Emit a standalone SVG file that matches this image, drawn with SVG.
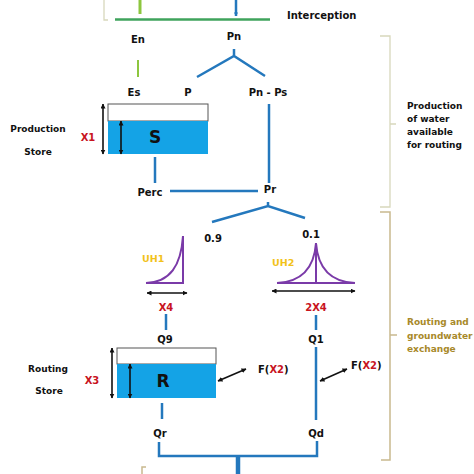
<svg xmlns="http://www.w3.org/2000/svg" width="474" height="474" viewBox="0 0 474 474">
<style>
text{font-family:"DejaVu Sans","Liberation Sans",sans-serif;font-weight:bold;font-size:9px;fill:#111}
.n{font-size:10px}
.c{text-anchor:middle}
.red{fill:#c8141e}
.yel{fill:#f2c21a}
.tan{fill:#a8892a}
.big{font-size:17px}
.bl{fill:none;stroke:#2478bd;stroke-width:2.5}
.pu{fill:none;stroke:#7a3aa8;stroke-width:2}
.da{stroke:#111;stroke-width:1.6;fill:none;marker-start:url(#ah);marker-end:url(#ah)}
.br{fill:none;stroke:#d8d8bc;stroke-width:1.3}
.br2{fill:none;stroke:#c9b98f;stroke-width:1.5}
</style>
<defs>
<marker id="ah" viewBox="0 0 10 10" refX="9" refY="5" markerWidth="5" markerHeight="5" orient="auto-start-reverse" markerUnits="userSpaceOnUse"><path d="M0,0 L10,5 L0,10 z" fill="#111"/></marker>
<marker id="bh" viewBox="0 0 10 10" refX="9" refY="5" markerWidth="4" markerHeight="4" orient="auto" markerUnits="userSpaceOnUse"><path d="M0,0 L10,5 L0,10 z" fill="#2478bd"/></marker>
</defs>
<rect width="474" height="474" fill="#fff"/>

<g id="brackets">
<path class="br" d="M104,0 V20 H108"/>
<path class="br" d="M380,36 H390 V124 H396 M390,124 V207 H380"/>
<path class="br2" d="M380,212 H390 V335 H397 M390,335 V460 H381"/>
<path class="br2" d="M146,467 H142 V474"/>
</g>

<g id="connectors">
<line x1="140" y1="0" x2="140" y2="14" stroke="#8dc63f" stroke-width="3"/>
<line x1="236" y1="0" x2="236" y2="16" stroke="#2478bd" stroke-width="2.5" marker-end="url(#bh)"/>
<line x1="115" y1="19.5" x2="270" y2="19.5" stroke="#3fa35c" stroke-width="2.5"/>
<line x1="138" y1="60" x2="138" y2="77" stroke="#8dc63f" stroke-width="2"/>
<path class="bl" d="M234,49 V56 M197,77 L234,56 L265,76"/>
<line class="bl" x1="269" y1="104" x2="269" y2="183"/>
<line class="bl" x1="155" y1="157" x2="155" y2="183"/>
<line class="bl" x1="170" y1="191" x2="258" y2="191"/>
<path class="bl" d="M268,202 V206 M212,222 L268,206 L305,218"/>
<line class="bl" x1="166" y1="314" x2="166" y2="330"/>
<line class="bl" x1="316" y1="315" x2="316" y2="330"/>
<line class="bl" x1="316" y1="347" x2="316" y2="420"/>
<line class="bl" x1="162" y1="403" x2="162" y2="419"/>
<path class="bl" d="M159,442 V456 H317 V441"/>
<line x1="238" y1="457" x2="238" y2="474" stroke="#2478bd" stroke-width="4.5"/>
<line class="da" x1="218" y1="381" x2="246" y2="369"/>
<line class="da" x1="320" y1="381" x2="347" y2="369"/>
</g>

<g id="interception">
<text x="287" y="19" style="font-size:10px">Interception</text>
</g>

<g id="labels-top">
<text class="c n" x="138" y="43">En</text>
<text class="c n" x="234" y="40">Pn</text>
<text class="c n" x="134" y="96">Es</text>
<text class="c n" x="188" y="96">P</text>
<text class="c n" x="268" y="96">Pn - Ps</text>
<text class="c n" x="150" y="196">Perc</text>
<text class="c n" x="270" y="193">Pr</text>
<text class="c n" x="213" y="242">0.9</text>
<text class="c n" x="311" y="238">0.1</text>
</g>

<g id="production-store">
<rect x="108" y="104" width="100" height="17" fill="#fff" stroke="#555" stroke-width="1"/>
<rect x="108" y="121" width="100" height="33" fill="#14a3e6"/>
<text class="c big" x="155" y="143">S</text>
<line class="da" x1="103" y1="104" x2="103" y2="154"/>
<line class="da" x1="121" y1="121" x2="121" y2="154"/>
<text class="c red n" x="88" y="141">X1</text>
<text class="c" x="38" y="132">Production</text>
<text class="c" x="38" y="155">Store</text>
</g>

<g id="production-note">
<text x="407" y="109">Production</text>
<text x="407" y="122">of water</text>
<text x="407" y="135">available</text>
<text x="407" y="148">for routing</text>
</g>

<g id="uh1">
<path class="pu" d="M146,283 C170,282 181,266 183,236 V283 H146"/>
<text class="yel" x="142" y="262" style="font-size:9.5px">UH1</text>
<line class="da" x1="147" y1="293" x2="187" y2="293"/>
<text class="c red n" x="166" y="311">X4</text>
</g>

<g id="uh2">
<path class="pu" d="M277,283 C300,282 314,270 316,243 C318,270 332,282 355,283 M316,243 V283 M277,283 H353"/>
<text class="yel" x="272" y="266" style="font-size:9.5px">UH2</text>
<line class="da" x1="272" y1="291" x2="355" y2="291"/>
<text class="c red n" x="316" y="311">2X4</text>
</g>

<g id="routing-store">
<text class="c n" x="165" y="343">Q9</text>
<rect x="117" y="348" width="99" height="16" fill="#fff" stroke="#555" stroke-width="1"/>
<rect x="117" y="364" width="99" height="34" fill="#14a3e6"/>
<text class="c big" x="163" y="387">R</text>
<line class="da" x1="112" y1="348" x2="112" y2="398"/>
<line class="da" x1="130" y1="364" x2="130" y2="398"/>
<text class="c red n" x="92" y="384">X3</text>
<text class="c" x="48" y="372">Routing</text>
<text class="c" x="49" y="394">Store</text>
<text class="n" x="258" y="373">F(<tspan class="red">X2</tspan>)</text>
<text class="c n" x="160" y="437">Qr</text>
</g>

<g id="direct-flow">
<text class="c n" x="316" y="343">Q1</text>
<text class="n" x="351" y="369">F(<tspan class="red">X2</tspan>)</text>
<text class="c n" x="316" y="437">Qd</text>
</g>

<g id="routing-note">
<text class="tan" x="407" y="325">Routing and</text>
<text class="tan" x="407" y="339">groundwater</text>
<text class="tan" x="407" y="352">exchange</text>
</g>
</svg>
